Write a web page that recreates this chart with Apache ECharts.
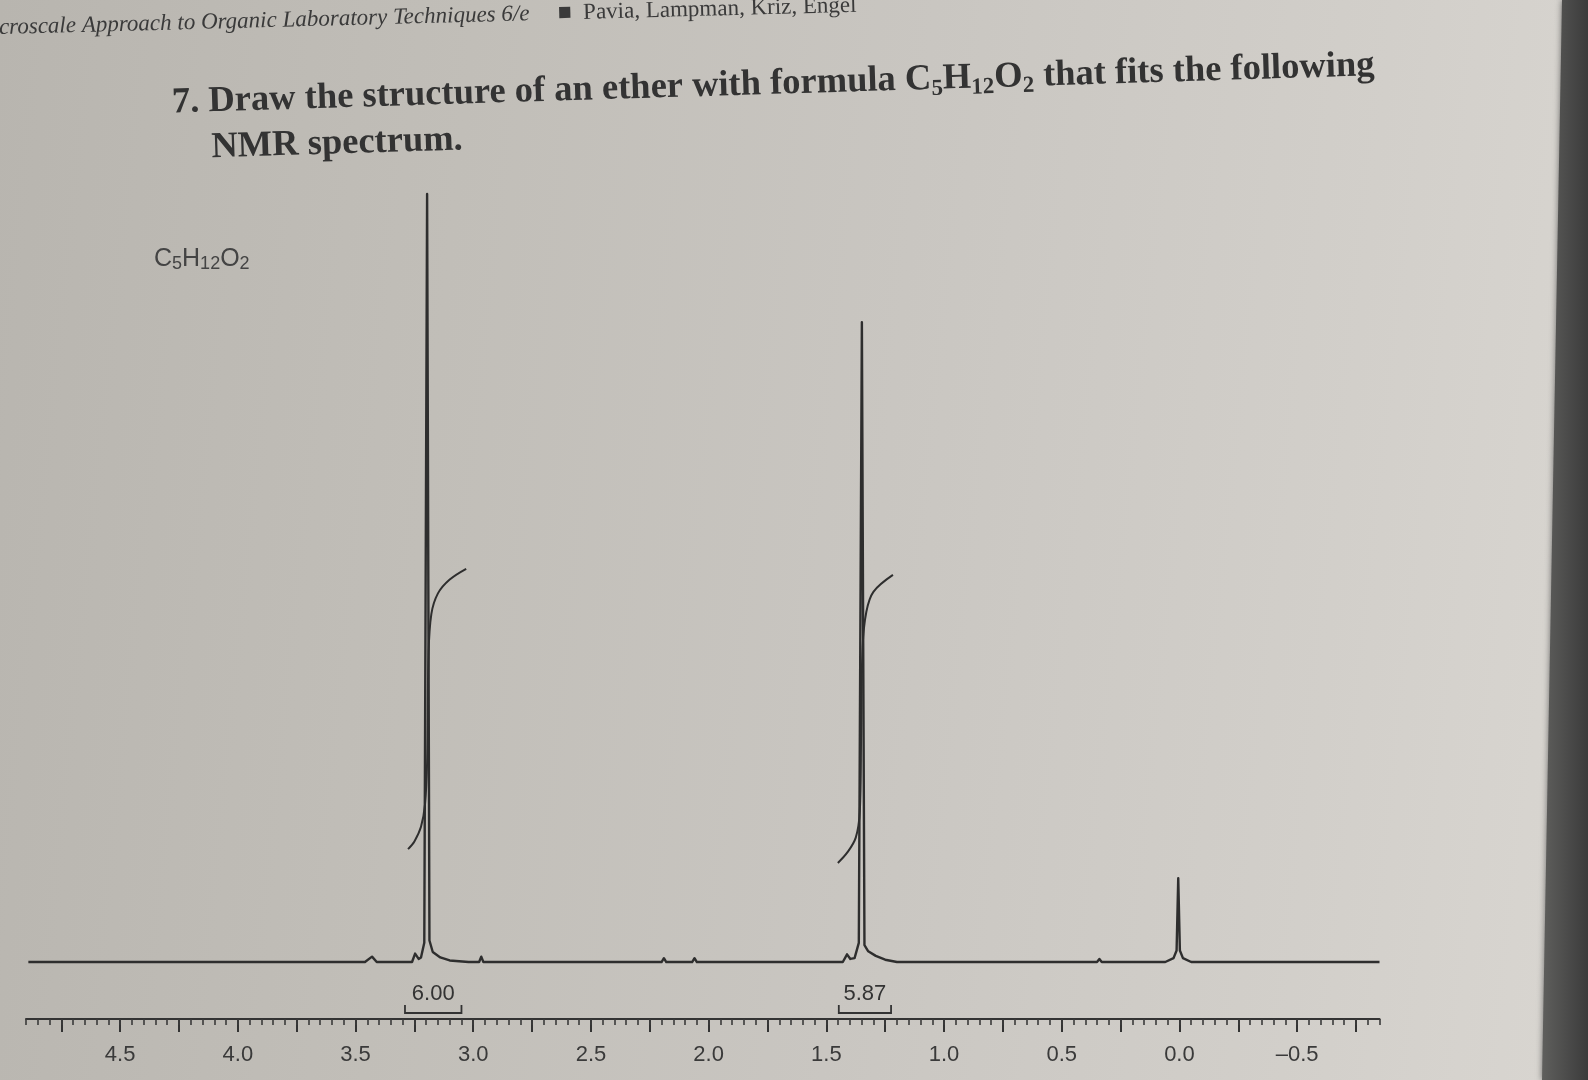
<!DOCTYPE html>
<html>
<head>
<meta charset="utf-8">
<title>C5H12O2 NMR spectrum</title>
<script src="https://cdn.jsdelivr.net/npm/echarts@6.0.0/dist/echarts.min.js"></script>
<style>
  html, body {
    margin: 0;
    padding: 0;
  }
  body {
    width: 1588px;
    height: 1080px;
    overflow: hidden;
    background: linear-gradient(96deg, #b8b5af 0%, #c1beb8 28%, #c9c6c1 55%, #d2cfca 82%, #d9d6d1 100%);
  }
  #chart {
    width: 1588px;
    height: 1080px;
  }
</style>
</head>
<body>
<div id="chart"></div>
<script>
// spectrum trace: [ppm, intensity], tallest peak = 100
var spectrum = [
  [4.89, 0], [3.46, 0], [3.43, 0.7], [3.41, 0],
  [3.26, 0], [3.247, 1.1], [3.232, 0.4], [3.222, 0.6], [3.208, 2.5],
  [3.196, 100],
  [3.186, 2.8], [3.172, 1.3], [3.14, 0.6], [3.10, 0.2], [3.02, 0],
  [2.975, 0], [2.966, 0.7], [2.957, 0],
  [2.20, 0], [2.19, 0.5], [2.18, 0], [2.07, 0], [2.06, 0.5], [2.05, 0],
  [1.43, 0], [1.412, 1.0], [1.398, 0.4], [1.38, 0.5], [1.362, 2.5],
  [1.349, 83.3],
  [1.338, 2.2], [1.322, 1.4], [1.29, 0.8], [1.25, 0.3], [1.20, 0],
  [0.35, 0], [0.34, 0.4], [0.33, 0],
  [0.06, 0], [0.025, 0.5], [0.012, 1.5], [0.005, 10.9], [-0.002, 1.5], [-0.015, 0.5], [-0.05, 0],
  [-0.85, 0]
];

// integral traces
var integral1 = [
  [3.277, 14.7], [3.25, 15.7], [3.222, 17.6], [3.205, 20.5], [3.196, 26],
  [3.19, 40], [3.178, 45.3], [3.15, 48.0], [3.10, 49.8], [3.03, 51.2]
];
var integral2 = [
  [1.451, 12.9], [1.41, 14.3], [1.375, 16.2], [1.358, 19.5], [1.352, 30],
  [1.346, 41], [1.33, 45.6], [1.30, 48.2], [1.217, 50.4]
];

// integration brackets: [from ppm, to ppm] and the printed values
var integralRanges = [[3.29, 3.05], [1.447, 1.225]];
var integralLabels = ["6.00", "5.87"];

// axis scale
var ppmLabels = [4.5, 4.0, 3.5, 3.0, 2.5, 2.0, 1.5, 1.0, 0.5, 0.0, -0.5];
var ppmMajorTicks = [4.75, 4.5, 4.25, 4.0, 3.75, 3.5, 3.25, 3.0, 2.75, 2.5, 2.25, 2.0,
  1.75, 1.5, 1.25, 1.0, 0.75, 0.5, 0.25, 0.0, -0.25, -0.5, -0.75];
var ppmMinorTicks = [];
for (var i = -17; i <= 98; i++) {
  ppmMinorTicks.push(+(i * 0.05).toFixed(2));
}

var PPM_MIN = -0.85;
var PPM_MAX = 4.9;
var BRACKET_LEVEL = -6.64;
var INK = "#2e2e2e";

var chart = echarts.init(document.getElementById("chart"));

chart.setOption({
  backgroundColor: "transparent",
  animation: false,
  grid: {
    left: 26,
    right: 208.5,
    top: 194,
    bottom: 61
  },
  xAxis: [
    {
      type: "value",
      min: PPM_MIN,
      max: PPM_MAX,
      inverse: true,
      position: "bottom",
      axisLine: { onZero: false, lineStyle: { color: "#333", width: 2 } },
      axisTick: {
        show: true,
        customValues: ppmMajorTicks,
        length: 13,
        lineStyle: { color: "#333", width: 2 }
      },
      axisLabel: {
        customValues: ppmLabels,
        margin: 25,
        fontFamily: "Liberation Sans",
        fontSize: 22,
        color: "#3a3a3a",
        formatter: function (v) {
          return v < 0 ? "\u2013" + Math.abs(v).toFixed(1) : v.toFixed(1);
        }
      },
      splitLine: { show: false }
    },
    {
      type: "value",
      min: PPM_MIN,
      max: PPM_MAX,
      inverse: true,
      position: "bottom",
      axisLine: { show: false, onZero: false },
      axisTick: {
        show: true,
        customValues: ppmMinorTicks,
        length: 6,
        lineStyle: { color: "#3a3a3a", width: 1.6 }
      },
      axisLabel: { show: false },
      splitLine: { show: false }
    }
  ],
  yAxis: {
    type: "value",
    min: -7.42,
    max: 100,
    show: false
  },
  series: [
    {
      type: "line",
      name: "spectrum",
      data: spectrum,
      showSymbol: false,
      clip: false,
      lineStyle: { color: INK, width: 2.4, join: "round" }
    },
    {
      type: "line",
      name: "integral 1",
      data: integral1,
      showSymbol: false,
      smooth: 0.35,
      lineStyle: { color: INK, width: 2 }
    },
    {
      type: "line",
      name: "integral 2",
      data: integral2,
      showSymbol: false,
      smooth: 0.35,
      lineStyle: { color: INK, width: 2 }
    },
    {
      type: "custom",
      name: "integration",
      data: integralRanges,
      renderItem: function (params, api) {
        var a = api.coord([api.value(0), BRACKET_LEVEL]);
        var b = api.coord([api.value(1), BRACKET_LEVEL]);
        return {
          type: "group",
          children: [
            {
              type: "polyline",
              shape: { points: [[a[0], a[1] - 8], a, b, [b[0], b[1] - 8]] },
              style: { stroke: "#333", lineWidth: 1.8, fill: null }
            },
            {
              type: "text",
              x: (a[0] + b[0]) / 2,
              y: a[1] - 19,
              style: {
                text: integralLabels[params.dataIndex],
                fontFamily: "Liberation Sans",
                fontSize: 22,
                fill: "#333",
                align: "center",
                verticalAlign: "middle"
              }
            }
          ]
        };
      }
    }
  ],
  graphic: [
    {
      // running head
      type: "group",
      x: 0,
      y: 28,
      rotation: 0.026,
      children: [
        {
          type: "text",
          x: -1,
          y: 0,
          style: {
            text: "croscale Approach to Organic Laboratory Techniques 6/e",
            font: 'italic 23px "Liberation Serif"',
            fill: "#3a3a3a",
            verticalAlign: "middle"
          }
        },
        {
          type: "text",
          x: 558,
          y: 0,
          style: {
            text: "\u25A0  Pavia, Lampman, Kriz, Engel",
            font: '23px "Liberation Serif"',
            fill: "#3a3a3a",
            verticalAlign: "middle"
          }
        }
      ]
    },
    {
      // question text
      type: "group",
      x: 172,
      y: 103,
      rotation: 0.031,
      children: [
        {
          type: "text",
          x: 0,
          y: 0,
          style: {
            text: "{n|7. Draw the structure of an ether with formula C}{s|5}{n|H}{s|12}{n|O}{s|2}{n| that fits the following}",
            verticalAlign: "middle",
            rich: {
              n: { fontFamily: "Liberation Serif", fontWeight: "bold", fontSize: 36.5, lineHeight: 42, fill: "#333" },
              s: { fontFamily: "Liberation Serif", fontWeight: "bold", fontSize: 23, lineHeight: 23, fill: "#333", verticalAlign: "bottom" }
            }
          }
        },
        {
          type: "text",
          x: 38,
          y: 46,
          style: {
            text: "NMR spectrum.",
            font: 'bold 36.5px "Liberation Serif"',
            fill: "#333",
            verticalAlign: "middle"
          }
        }
      ]
    },
    {
      type: "text",
      x: 154,
      y: 259,
      style: {
        text: "{n|C}{s|5}{n|H}{s|12}{n|O}{s|2}",
        verticalAlign: "middle",
        rich: {
          n: { fontFamily: "Liberation Sans", fontSize: 25, lineHeight: 29, fill: "#444" },
          s: { fontFamily: "Liberation Sans", fontSize: 18, lineHeight: 18, fill: "#444", verticalAlign: "bottom" }
        }
      }
    },
    {
      // dark edge of the page on the right
      type: "polygon",
      shape: { points: [[1562, 0], [1588, 0], [1588, 1080], [1542, 1080]] },
      style: {
        fill: new echarts.graphic.LinearGradient(0, 0, 1, 0, [
          { offset: 0, color: "#5f5f5d" },
          { offset: 1, color: "#3b3b3b" }
        ]),
        shadowBlur: 6,
        shadowColor: "rgba(80,80,80,0.8)"
      }
    }
  ]
});
</script>
</body>
</html>
